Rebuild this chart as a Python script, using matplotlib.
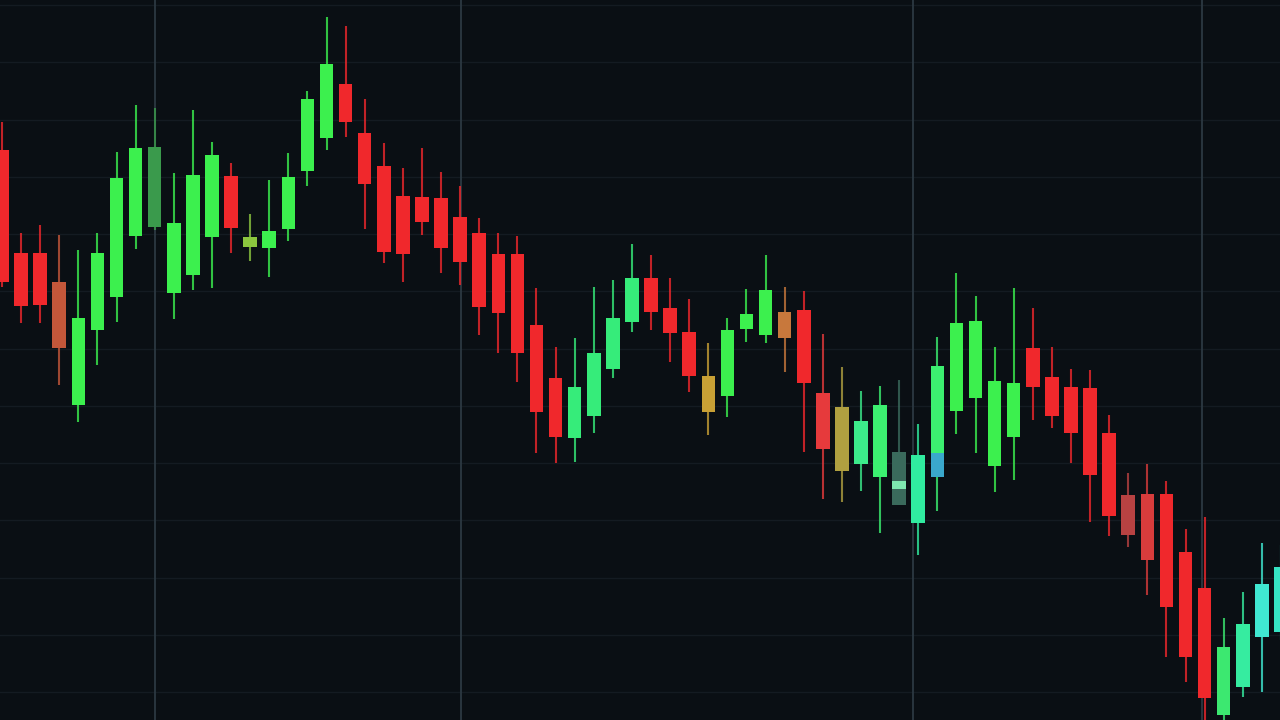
import matplotlib

matplotlib.use("Agg")
import matplotlib.pyplot as plt
import numpy as np

# OHLC (arbitrary price units)
opens = [570, 467, 467, 438, 315, 390, 423, 484, 493, 427, 445, 483,
         544, 473, 472, 491, 549, 582, 636, 587, 554, 524, 523, 522,
         503, 487, 466, 466, 395, 342, 282, 304, 351, 398, 442, 412,
         388, 344, 324, 391, 385, 408, 410, 327, 313, 256, 243, 215,
         197, 243, 309, 322, 254, 283, 372, 343, 333, 332, 287, 225,
         226, 226, 168, 132, 5, 33, 83, 88]
closes = [438, 414, 415, 372, 402, 467, 542, 572, 573, 497, 545, 565,
          492, 483, 489, 543, 621, 656, 598, 536, 468, 466, 498, 472,
          458, 413, 407, 367, 308, 283, 333, 367, 402, 442, 408, 387,
          344, 308, 390, 406, 430, 382, 337, 271, 249, 299, 315, 268,
          265, 354, 397, 399, 339, 337, 333, 304, 287, 245, 204, 185,
          160, 113, 63, 22, 73, 96, 136, 153]
highs = [598, 487, 495, 485, 470, 487, 568, 615, 612, 547, 610, 578,
         557, 506, 540, 567, 629, 703, 694, 621, 577, 552, 572, 548,
         534, 502, 487, 484, 432, 373, 382, 433, 440, 476, 465, 442,
         421, 377, 402, 431, 465, 433, 429, 386, 353, 329, 334, 340,
         296, 383, 447, 424, 373, 432, 412, 373, 351, 350, 305, 247,
         256, 239, 191, 203, 102, 128, 177, 175]
lows = [433, 397, 397, 335, 298, 355, 398, 471, 490, 401, 430, 432,
        467, 459, 443, 479, 534, 570, 583, 491, 457, 438, 485, 447,
        435, 385, 367, 338, 267, 257, 258, 287, 342, 388, 390, 358,
        328, 285, 303, 378, 377, 348, 268, 221, 218, 229, 187, 215,
        165, 209, 286, 267, 228, 240, 300, 292, 257, 198, 184, 173,
        125, 63, 38, -5, -5, 23, 28, 80]

RED = "#f0282c"
GREEN = "#3cf04e"
MINT = "#36ec7a"
candle_colors = (
    [RED] * 3 + ["#c4573a"] + [GREEN] * 4 + ["#3a9a4c"] + [GREEN] * 3
    + [RED] + ["#8cc63f"] + [GREEN] * 4 + [RED] * 12 + [MINT] * 4
    + [RED] * 3 + ["#c8a035"] + [GREEN] * 3 + ["#c8783c"] + [RED]
    + ["#e63a3c", "#b0a040", "#3ceb8a", "#3cf070", "#3a6a5c", "#30eca0", "#3cf070"]
    + [GREEN] * 4 + [RED] * 5 + ["#b84242", "#d83c3c"] + [RED] * 3
    + ["#3ce870", "#36eca0", "#40e8d2", "#36e4c4"]
)

# highlighted slices inside a few bodies (index, from, to, colour)
accent_idx = [47, 49]
accent_lo = [231, 243]
accent_hi = [239, 267]
accent_colors = ["#7ee8b0", "#3aa8cc"]

x = np.arange(len(opens))
o = np.array(opens, float)
c = np.array(closes, float)

BG = "#0a0f14"
fig = plt.figure(figsize=(12.8, 7.2), dpi=100)
fig.patch.set_facecolor(BG)
ax = fig.add_axes([0, 0, 1, 1])
ax.set_facecolor(BG)

# grid
for gy in np.arange(28, 720, 57.25):
    ax.axhline(gy, color="#141b22", lw=1.0, zorder=0)
for gx in [8.0, 24.04, 47.72, 62.86]:
    ax.axvline(gx, color="#2c3842", lw=1.3, zorder=0)

ax.vlines(x, lows, highs, colors=candle_colors, lw=1.5, alpha=0.8, zorder=2)
ax.bar(x, c - o, bottom=o, width=0.71, color=candle_colors, zorder=3)
ax.bar(accent_idx, np.subtract(accent_hi, accent_lo), bottom=accent_lo,
       width=0.71, color=accent_colors, zorder=4)

ax.set_xlim(-0.105, 66.95)
ax.set_ylim(0, 720)
ax.axis("off")

fig.savefig("out.png", dpi=100, facecolor=fig.get_facecolor())
